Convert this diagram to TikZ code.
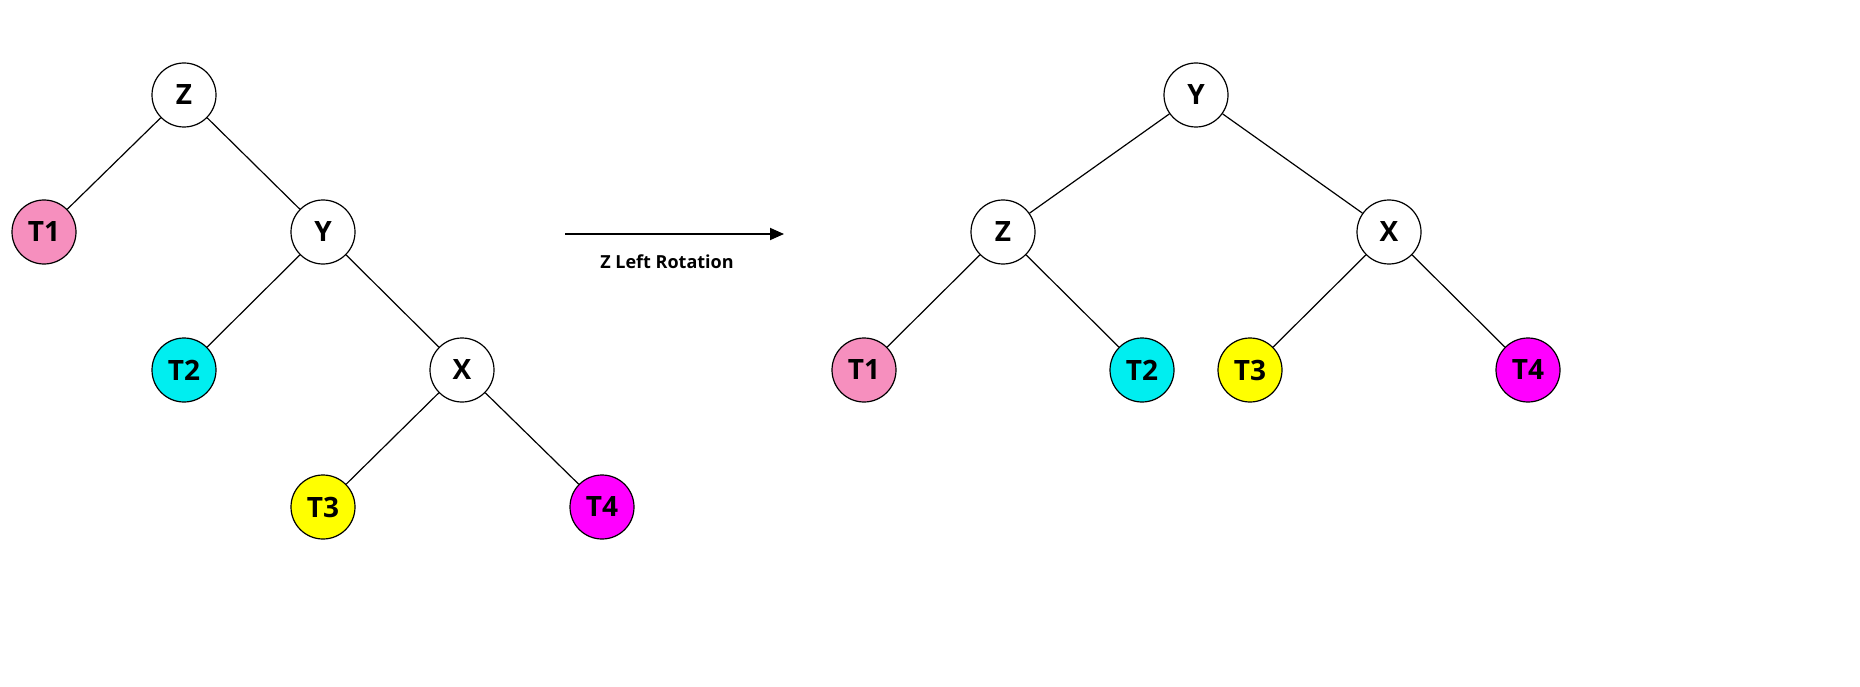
\documentclass[tikz,border=0pt]{standalone}
\usepackage{fontspec}
\setmainfont{Open Sans}
\usetikzlibrary{arrows.meta}
\begin{document}
\begin{tikzpicture}[x=1pt,y=-1pt,
  nd/.style={circle,draw,line width=1.2pt,minimum size=64pt,inner sep=0pt,font=\fontsize{28}{30}\selectfont\bfseries},
  ln/.style={line width=1.2pt}]
\useasboundingbox (0,0) rectangle (1860,687);
\definecolor{pk}{RGB}{246,143,190}
\definecolor{cy}{RGB}{0,238,240}
\definecolor{yl}{RGB}{255,255,0}
\definecolor{mg}{RGB}{255,0,255}
% left tree
\node[nd] (lz) at (184,95) {Z};
\node[nd,fill=pk] (lt1) at (44,232) {T1};
\node[nd] (ly) at (323,232) {Y};
\node[nd,fill=cy] (lt2) at (184,370) {T2};
\node[nd] (lx) at (462,370) {X};
\node[nd,fill=yl] (lt3) at (323,507) {T3};
\node[nd,fill=mg] (lt4) at (602,507) {T4};
\draw[ln] (lz)--(lt1); \draw[ln] (lz)--(ly);
\draw[ln] (ly)--(lt2); \draw[ln] (ly)--(lx);
\draw[ln] (lx)--(lt3); \draw[ln] (lx)--(lt4);
% arrow
\coordinate (a1) at (565,234);
\coordinate (a2) at (784,234);
\draw[line width=1.8pt,-{Triangle[length=14pt,width=12pt]}] (a1)--(a2);
\node[font=\fontsize{18}{20}\selectfont\bfseries] (lbl) at (667,262) {Z Left Rotation};
% right tree
\node[nd] (ry) at (1196,95) {Y};
\node[nd] (rz) at (1003,232) {Z};
\node[nd] (rx) at (1389,232) {X};
\node[nd,fill=pk] (rt1) at (864,370) {T1};
\node[nd,fill=cy] (rt2) at (1142,370) {T2};
\node[nd,fill=yl] (rt3) at (1250,370) {T3};
\node[nd,fill=mg] (rt4) at (1528,370) {T4};
\draw[ln] (ry)--(rz); \draw[ln] (ry)--(rx);
\draw[ln] (rz)--(rt1); \draw[ln] (rz)--(rt2);
\draw[ln] (rx)--(rt3); \draw[ln] (rx)--(rt4);
\end{tikzpicture}
\end{document}
